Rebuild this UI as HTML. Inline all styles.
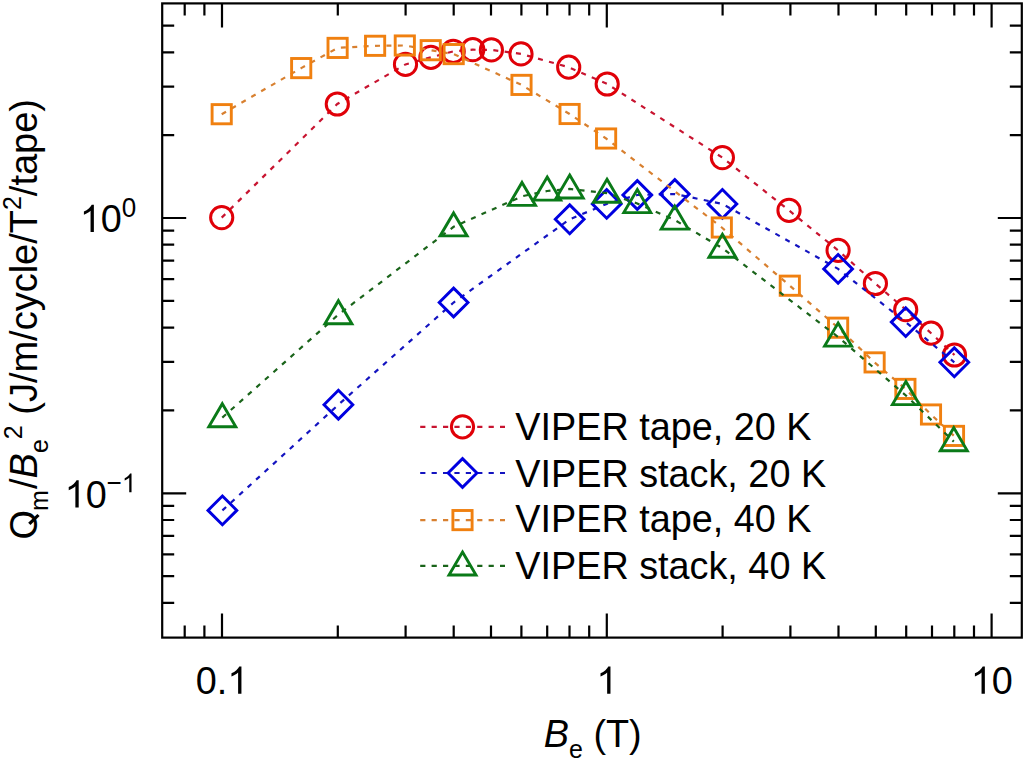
<!DOCTYPE html>
<html><head><meta charset="utf-8"><style>
html,body{margin:0;padding:0;background:#fff;width:1025px;height:761px;overflow:hidden}
svg{display:block}
text{font-family:"Liberation Sans",sans-serif;fill:#000}
.tl{font-size:37.8px}
.lg{font-size:37.8px}
.ax{font-size:37.8px}
.sup{font-size:26px}
.sub{font-size:25px}
</style></head><body>
<svg width="1025" height="761" viewBox="0 0 1025 761">
<rect x="0" y="0" width="1025" height="761" fill="#fff"/>
<g stroke="#000" stroke-width="2.2" fill="none">
<rect x="162.2" y="3.4" width="859.6" height="634.2"/>
<path d="M184.7 637.6V625.6M184.7 3.4V15.4M204.4 637.6V625.6M204.4 3.4V15.4M222.0 637.6V613.6M222.0 3.4V27.4M337.8 637.6V625.6M337.8 3.4V15.4M405.6 637.6V625.6M405.6 3.4V15.4M453.7 637.6V625.6M453.7 3.4V15.4M491.0 637.6V625.6M491.0 3.4V15.4M521.4 637.6V625.6M521.4 3.4V15.4M547.2 637.6V625.6M547.2 3.4V15.4M569.5 637.6V625.6M569.5 3.4V15.4M589.2 637.6V625.6M589.2 3.4V15.4M606.8 637.6V613.6M606.8 3.4V27.4M722.6 637.6V625.6M722.6 3.4V15.4M790.4 637.6V625.6M790.4 3.4V15.4M838.5 637.6V625.6M838.5 3.4V15.4M875.8 637.6V625.6M875.8 3.4V15.4M906.2 637.6V625.6M906.2 3.4V15.4M932.0 637.6V625.6M932.0 3.4V15.4M954.3 637.6V625.6M954.3 3.4V15.4M974.0 637.6V625.6M974.0 3.4V15.4M991.6 637.6V613.6M991.6 3.4V27.4M162.2 602.9H174.2M1021.8 602.9H1009.8M162.2 576.2H174.2M1021.8 576.2H1009.8M162.2 554.4H174.2M1021.8 554.4H1009.8M162.2 535.9H174.2M1021.8 535.9H1009.8M162.2 520.0H174.2M1021.8 520.0H1009.8M162.2 505.9H174.2M1021.8 505.9H1009.8M162.2 493.3H186.2M1021.8 493.3H997.8M162.2 410.4H174.2M1021.8 410.4H1009.8M162.2 361.9H174.2M1021.8 361.9H1009.8M162.2 327.6H174.2M1021.8 327.6H1009.8M162.2 300.9H174.2M1021.8 300.9H1009.8M162.2 279.1H174.2M1021.8 279.1H1009.8M162.2 260.6H174.2M1021.8 260.6H1009.8M162.2 244.7H174.2M1021.8 244.7H1009.8M162.2 230.6H174.2M1021.8 230.6H1009.8M162.2 218.0H186.2M1021.8 218.0H997.8M162.2 135.1H174.2M1021.8 135.1H1009.8M162.2 86.6H174.2M1021.8 86.6H1009.8M162.2 52.3H174.2M1021.8 52.3H1009.8M162.2 25.6H174.2M1021.8 25.6H1009.8"/>
</g>
<polyline points="221.7,217.6 337.3,104.0 405.5,64.4 430.9,57.3 453.2,51.4 472.8,49.7 491.4,49.9 521.0,53.9 568.7,67.2 607.2,84.0 722.4,157.6 789.0,210.4 838.1,250.4 875.4,283.5 905.7,309.7 931.1,333.2 954.5,355.0" fill="none" stroke="#c81430" stroke-width="2.2" stroke-dasharray="5 6.4"/><circle cx="221.7" cy="217.6" r="11.1" stroke="#e00008" stroke-width="3" fill="none"/><circle cx="337.3" cy="104.0" r="11.1" stroke="#e00008" stroke-width="3" fill="none"/><circle cx="405.5" cy="64.4" r="11.1" stroke="#e00008" stroke-width="3" fill="none"/><circle cx="430.9" cy="57.3" r="11.1" stroke="#e00008" stroke-width="3" fill="none"/><circle cx="453.2" cy="51.4" r="11.1" stroke="#e00008" stroke-width="3" fill="none"/><circle cx="472.8" cy="49.7" r="11.1" stroke="#e00008" stroke-width="3" fill="none"/><circle cx="491.4" cy="49.9" r="11.1" stroke="#e00008" stroke-width="3" fill="none"/><circle cx="521.0" cy="53.9" r="11.1" stroke="#e00008" stroke-width="3" fill="none"/><circle cx="568.7" cy="67.2" r="11.1" stroke="#e00008" stroke-width="3" fill="none"/><circle cx="607.2" cy="84.0" r="11.1" stroke="#e00008" stroke-width="3" fill="none"/><circle cx="722.4" cy="157.6" r="11.1" stroke="#e00008" stroke-width="3" fill="none"/><circle cx="789.0" cy="210.4" r="11.1" stroke="#e00008" stroke-width="3" fill="none"/><circle cx="838.1" cy="250.4" r="11.1" stroke="#e00008" stroke-width="3" fill="none"/><circle cx="875.4" cy="283.5" r="11.1" stroke="#e00008" stroke-width="3" fill="none"/><circle cx="905.7" cy="309.7" r="11.1" stroke="#e00008" stroke-width="3" fill="none"/><circle cx="931.1" cy="333.2" r="11.1" stroke="#e00008" stroke-width="3" fill="none"/><circle cx="954.5" cy="355.0" r="11.1" stroke="#e00008" stroke-width="3" fill="none"/>
<polyline points="222.4,510.4 338.4,404.7 453.6,302.5 569.7,219.3 606.7,203.9 637.3,195.0 674.8,194.0 722.4,203.9 838.1,268.9 905.7,322.1 954.3,362.3" fill="none" stroke="#1414c0" stroke-width="2.2" stroke-dasharray="5 6.4"/><path d="M222.4 496.0L236.8 510.4L222.4 524.8L208.0 510.4Z" stroke="#0000e0" stroke-width="2.9" fill="none" stroke-linejoin="miter"/><path d="M338.4 390.3L352.8 404.7L338.4 419.1L324.0 404.7Z" stroke="#0000e0" stroke-width="2.9" fill="none" stroke-linejoin="miter"/><path d="M453.6 288.1L468.0 302.5L453.6 316.9L439.2 302.5Z" stroke="#0000e0" stroke-width="2.9" fill="none" stroke-linejoin="miter"/><path d="M569.7 204.9L584.1 219.3L569.7 233.7L555.3 219.3Z" stroke="#0000e0" stroke-width="2.9" fill="none" stroke-linejoin="miter"/><path d="M606.7 189.5L621.1 203.9L606.7 218.3L592.3 203.9Z" stroke="#0000e0" stroke-width="2.9" fill="none" stroke-linejoin="miter"/><path d="M637.3 180.6L651.7 195.0L637.3 209.4L622.9 195.0Z" stroke="#0000e0" stroke-width="2.9" fill="none" stroke-linejoin="miter"/><path d="M674.8 179.6L689.2 194.0L674.8 208.4L660.4 194.0Z" stroke="#0000e0" stroke-width="2.9" fill="none" stroke-linejoin="miter"/><path d="M722.4 189.5L736.8 203.9L722.4 218.3L708.0 203.9Z" stroke="#0000e0" stroke-width="2.9" fill="none" stroke-linejoin="miter"/><path d="M838.1 254.5L852.5 268.9L838.1 283.3L823.7 268.9Z" stroke="#0000e0" stroke-width="2.9" fill="none" stroke-linejoin="miter"/><path d="M905.7 307.7L920.1 322.1L905.7 336.5L891.3 322.1Z" stroke="#0000e0" stroke-width="2.9" fill="none" stroke-linejoin="miter"/><path d="M954.3 347.9L968.7 362.3L954.3 376.7L939.9 362.3Z" stroke="#0000e0" stroke-width="2.9" fill="none" stroke-linejoin="miter"/>
<polyline points="221.7,114.2 301.2,68.1 337.6,47.9 375.1,45.8 404.8,45.5 430.7,50.2 453.7,54.1 521.5,84.9 569.6,114.0 606.1,138.5 721.8,227.5 789.8,285.7 838.1,327.7 874.6,362.4 905.4,388.9 931.0,414.5 954.0,435.9" fill="none" stroke="#d88030" stroke-width="2.2" stroke-dasharray="5 6.4"/><rect x="212.1" y="104.6" width="19.2" height="19.2" stroke="#f08010" stroke-width="2.9" fill="none"/><rect x="291.6" y="58.5" width="19.2" height="19.2" stroke="#f08010" stroke-width="2.9" fill="none"/><rect x="328.0" y="38.3" width="19.2" height="19.2" stroke="#f08010" stroke-width="2.9" fill="none"/><rect x="365.5" y="36.2" width="19.2" height="19.2" stroke="#f08010" stroke-width="2.9" fill="none"/><rect x="395.2" y="35.9" width="19.2" height="19.2" stroke="#f08010" stroke-width="2.9" fill="none"/><rect x="421.1" y="40.6" width="19.2" height="19.2" stroke="#f08010" stroke-width="2.9" fill="none"/><rect x="444.1" y="44.5" width="19.2" height="19.2" stroke="#f08010" stroke-width="2.9" fill="none"/><rect x="511.9" y="75.3" width="19.2" height="19.2" stroke="#f08010" stroke-width="2.9" fill="none"/><rect x="560.0" y="104.4" width="19.2" height="19.2" stroke="#f08010" stroke-width="2.9" fill="none"/><rect x="596.5" y="128.9" width="19.2" height="19.2" stroke="#f08010" stroke-width="2.9" fill="none"/><rect x="712.2" y="217.9" width="19.2" height="19.2" stroke="#f08010" stroke-width="2.9" fill="none"/><rect x="780.2" y="276.1" width="19.2" height="19.2" stroke="#f08010" stroke-width="2.9" fill="none"/><rect x="828.5" y="318.1" width="19.2" height="19.2" stroke="#f08010" stroke-width="2.9" fill="none"/><rect x="865.0" y="352.8" width="19.2" height="19.2" stroke="#f08010" stroke-width="2.9" fill="none"/><rect x="895.8" y="379.3" width="19.2" height="19.2" stroke="#f08010" stroke-width="2.9" fill="none"/><rect x="921.4" y="404.9" width="19.2" height="19.2" stroke="#f08010" stroke-width="2.9" fill="none"/><rect x="944.4" y="426.3" width="19.2" height="19.2" stroke="#f08010" stroke-width="2.9" fill="none"/>
<polyline points="222.3,417.6 338.4,314.6 453.6,226.8 522.0,196.3 547.2,191.0 569.7,188.9 607.0,193.2 637.3,203.5 674.7,220.0 722.4,248.2 838.1,337.0 905.9,395.5 953.8,441.6" fill="none" stroke="#1a641a" stroke-width="2.2" stroke-dasharray="5 6.4"/><path d="M222.3 403.7L235.8 426.7L208.8 426.7Z" stroke="#0a7a18" stroke-width="2.9" fill="none" stroke-linejoin="miter"/><path d="M338.4 300.7L351.9 323.7L324.9 323.7Z" stroke="#0a7a18" stroke-width="2.9" fill="none" stroke-linejoin="miter"/><path d="M453.6 212.9L467.1 235.9L440.1 235.9Z" stroke="#0a7a18" stroke-width="2.9" fill="none" stroke-linejoin="miter"/><path d="M522.0 182.4L535.5 205.4L508.5 205.4Z" stroke="#0a7a18" stroke-width="2.9" fill="none" stroke-linejoin="miter"/><path d="M547.2 177.1L560.7 200.1L533.7 200.1Z" stroke="#0a7a18" stroke-width="2.9" fill="none" stroke-linejoin="miter"/><path d="M569.7 175.0L583.2 198.0L556.2 198.0Z" stroke="#0a7a18" stroke-width="2.9" fill="none" stroke-linejoin="miter"/><path d="M607.0 179.3L620.5 202.3L593.5 202.3Z" stroke="#0a7a18" stroke-width="2.9" fill="none" stroke-linejoin="miter"/><path d="M637.3 189.6L650.8 212.6L623.8 212.6Z" stroke="#0a7a18" stroke-width="2.9" fill="none" stroke-linejoin="miter"/><path d="M674.7 206.1L688.2 229.1L661.2 229.1Z" stroke="#0a7a18" stroke-width="2.9" fill="none" stroke-linejoin="miter"/><path d="M722.4 234.3L735.9 257.3L708.9 257.3Z" stroke="#0a7a18" stroke-width="2.9" fill="none" stroke-linejoin="miter"/><path d="M838.1 323.1L851.6 346.1L824.6 346.1Z" stroke="#0a7a18" stroke-width="2.9" fill="none" stroke-linejoin="miter"/><path d="M905.9 381.6L919.4 404.6L892.4 404.6Z" stroke="#0a7a18" stroke-width="2.9" fill="none" stroke-linejoin="miter"/><path d="M953.8 427.7L967.3 450.7L940.3 450.7Z" stroke="#0a7a18" stroke-width="2.9" fill="none" stroke-linejoin="miter"/>
<line x1="420.2" y1="426.8" x2="505" y2="426.8" stroke="#c81430" stroke-width="2.2" stroke-dasharray="5.2 6.2"/><circle cx="462.5" cy="426.8" r="11.1" stroke="#e00008" stroke-width="3" fill="none"/><text transform="translate(515.30,439.70) scale(1,1.04)" class="lg" >VIPER tape, 20 K</text><line x1="420.2" y1="473.0" x2="505" y2="473.0" stroke="#1414c0" stroke-width="2.2" stroke-dasharray="5.2 6.2"/><path d="M462.5 458.6L476.9 473.0L462.5 487.4L448.1 473.0Z" stroke="#0000e0" stroke-width="2.9" fill="none" stroke-linejoin="miter"/><text transform="translate(515.30,486.50) scale(1,1.04)" class="lg" >VIPER stack, 20 K</text><line x1="420.2" y1="520.1" x2="505" y2="520.1" stroke="#d88030" stroke-width="2.2" stroke-dasharray="5.2 6.2"/><rect x="452.9" y="510.5" width="19.2" height="19.2" stroke="#f08010" stroke-width="2.9" fill="none"/><text transform="translate(515.30,532.40) scale(1,1.04)" class="lg" >VIPER tape, 40 K</text><line x1="420.2" y1="565.9" x2="505" y2="565.9" stroke="#1a641a" stroke-width="2.2" stroke-dasharray="5.2 6.2"/><path d="M462.5 552.0L476.0 575.0L449.0 575.0Z" stroke="#0a7a18" stroke-width="2.9" fill="none" stroke-linejoin="miter"/><text transform="translate(515.30,578.60) scale(1,1.04)" class="lg" >VIPER stack, 40 K</text><text transform="translate(195.83,693.70) scale(1,1.04)" class="tl" >0.</text><path d="M763 0L583 0L583 1147Q518 1085 412.5 1023Q307 961 223 930L223 1104Q374 1175 487 1276Q600 1377 647 1472L763 1472Z" transform="translate(227.35,693.70) scale(0.01846,-0.01846)" fill="#000"/><path d="M763 0L583 0L583 1147Q518 1085 412.5 1023Q307 961 223 930L223 1104Q374 1175 487 1276Q600 1377 647 1472L763 1472Z" transform="translate(596.39,693.70) scale(0.01846,-0.01846)" fill="#000"/><path d="M763 0L583 0L583 1147Q518 1085 412.5 1023Q307 961 223 930L223 1104Q374 1175 487 1276Q600 1377 647 1472L763 1472Z" transform="translate(970.78,693.70) scale(0.01846,-0.01846)" fill="#000"/><text transform="translate(991.80,693.70) scale(1,1.04)" class="tl" >0</text><path d="M763 0L583 0L583 1147Q518 1085 412.5 1023Q307 961 223 930L223 1104Q374 1175 487 1276Q600 1377 647 1472L763 1472Z" transform="translate(79.79,232.00) scale(0.01846,-0.01846)" fill="#000"/><text transform="translate(100.82,232.00) scale(1,1.04)" class="tl" >0</text><text transform="translate(121.84,217.20) scale(1,1.04)" class="sup" >0</text><path d="M763 0L583 0L583 1147Q518 1085 412.5 1023Q307 961 223 930L223 1104Q374 1175 487 1276Q600 1377 647 1472L763 1472Z" transform="translate(64.61,507.50) scale(0.01846,-0.01846)" fill="#000"/><text transform="translate(85.63,507.50) scale(1,1.04)" class="tl" >0</text><text transform="translate(106.66,492.30) scale(1,1.04)" class="sup" >−</text><path d="M763 0L583 0L583 1147Q518 1085 412.5 1023Q307 961 223 930L223 1104Q374 1175 487 1276Q600 1377 647 1472L763 1472Z" transform="translate(121.84,492.30) scale(0.01270,-0.01270)" fill="#000"/><text transform="translate(543.80,746.60) scale(1,1.04)" class="ax" ><tspan font-style="italic">B</tspan><tspan class="sub" dy="11.3">e</tspan><tspan dy="-11.3"> (T)</tspan></text><g transform="translate(36.5,539.4) rotate(-90) scale(1,1.04)"><path d="M15.6 -6.9L24.4 1.9" stroke="#000" stroke-width="3.1" fill="none"/></g><text transform="translate(36.5,539.4) rotate(-90) scale(1,1.04)" x="0" y="0" class="ax" style="font-size:38px">O<tspan class="sub" dx="-1.2" dy="11.3">m</tspan><tspan dx="1.2" dy="-11.3">/</tspan><tspan font-style="italic">B</tspan><tspan class="sub" dy="11.3">e</tspan><tspan class="sub" dy="-25.5">2</tspan><tspan dy="14.2"> (J/m/cycle/T</tspan><tspan class="sub" dy="-15">2</tspan><tspan dy="15">/tape)</tspan></text></svg>
</body></html>
